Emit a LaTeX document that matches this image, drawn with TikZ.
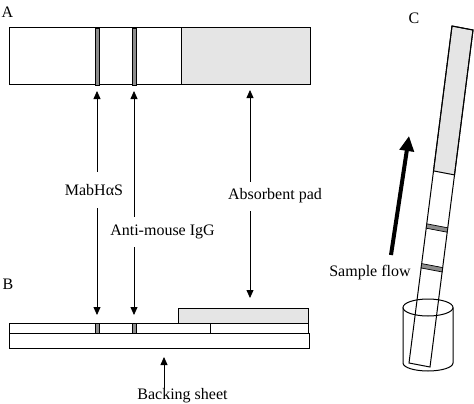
\documentclass[tikz,border=0pt]{standalone}
\usepackage{fontspec}
\setmainfont{Liberation Serif}
\usetikzlibrary{arrows.meta,calc}
\tikzset{
  strip/.style = {draw, line width=1pt},
  pad/.style = {strip, fill=black!10},
  band/.style = {draw, line width=0.7pt, fill=black!45},
  txt/.style = {font=\fontsize{16}{19}\selectfont, inner sep=1pt},
  cutlabel/.style = {txt, fill=white},
  pointer/.style = {line width=0.8pt, -{Triangle[length=8pt,width=7pt]}},
  dblpointer/.style = {line width=0.8pt, {Triangle[length=8pt,width=7pt]}-{Triangle[length=8pt,width=7pt]}},
  flow/.style = {line width=4pt, -{Triangle[length=15pt,width=14pt]}},
}

\begin{document}
\begin{tikzpicture}[x=1pt, y=-1pt]
 \useasboundingbox (0,0) rectangle (474,404);

 \node[txt] (labA) at (7.5,12) {A};
 \node[txt] (labB) at (8,284) {B};
 \node[txt] (labC) at (414,18) {C};

 % strip A
 \draw[pad] (181,28) rectangle (310,85);
 \draw[strip] (9,28) rectangle (310,85);
 \draw[band] (95,28) rectangle (99,85);
 \draw[band] (132,28) rectangle (136,85);

 % strip B
 \draw[pad] (178,308) rectangle (308,323);
 \draw[strip] (9,323) rectangle (308,333);
 \draw[strip] (210,323) -- (210,333);
 \draw[strip] (9,333) rectangle (309,348);
 \draw[band] (95,323) rectangle (99,333);
 \draw[band] (132,323) rectangle (136,333);

 \coordinate (a1) at (97,91);
 \coordinate (b1) at (97,315);
 \coordinate (a2) at (134,91);
 \coordinate (b2) at (134,315);
 \coordinate (a3) at (250,90);
 \coordinate (b3) at (250,298);
 \coordinate (bk) at (164,357);

 \draw[dblpointer] (a1) -- (b1);
 \draw[dblpointer] (a2) -- (b2);
 \draw[dblpointer] (a3) -- (b3);

 \node[cutlabel, minimum height=36pt] (mab) at (94,190) {MabHαS};
 \node[cutlabel, minimum height=30pt] (igg) at (162.5,232) {Anti-mouse IgG};
 \node[cutlabel, minimum height=29pt] (abs) at (275,196) {Absorbent pad};

 \node[txt] (back) at (182.5,396) {Backing sheet};
 \draw[pointer] (back.north -| bk) -- (bk);

 % strip C in the cup
 \coordinate (tl) at (452,26);
 \coordinate (tr) at (473,30);
 \coordinate (br) at (430,367);
 \coordinate (bl) at (409,363);
 \draw[pad] (tl) -- (tr) -- ($(tr)!0.43!(br)$) -- ($(tl)!0.43!(bl)$) -- cycle;
 \draw[strip] (tl) -- (tr) -- (br) -- (bl) -- cycle;
 \draw[band] ($(tl)!0.587!(bl)$) -- ($(tr)!0.587!(br)$) -- ($(tr)!0.600!(br)$) -- ($(tl)!0.600!(bl)$) -- cycle;
 \draw[band] ($(tl)!0.705!(bl)$) -- ($(tr)!0.705!(br)$) -- ($(tr)!0.718!(br)$) -- ($(tl)!0.718!(bl)$) -- cycle;

 \draw[strip] (428,307.5) ellipse [x radius=25, y radius=8.5];
 \draw[strip] (403,307.5) -- (403,363) arc [start angle=180, end angle=360, x radius=25, y radius=-8] -- (453,307.5);

 \node[txt] (flowlbl) at (370,273) {Sample flow};
 \coordinate (flowtail) at (391,255);
 \coordinate (flowtip) at (409,136);
 \draw[flow] (flowtail) -- (flowtip);

\end{tikzpicture}
\end{document}
